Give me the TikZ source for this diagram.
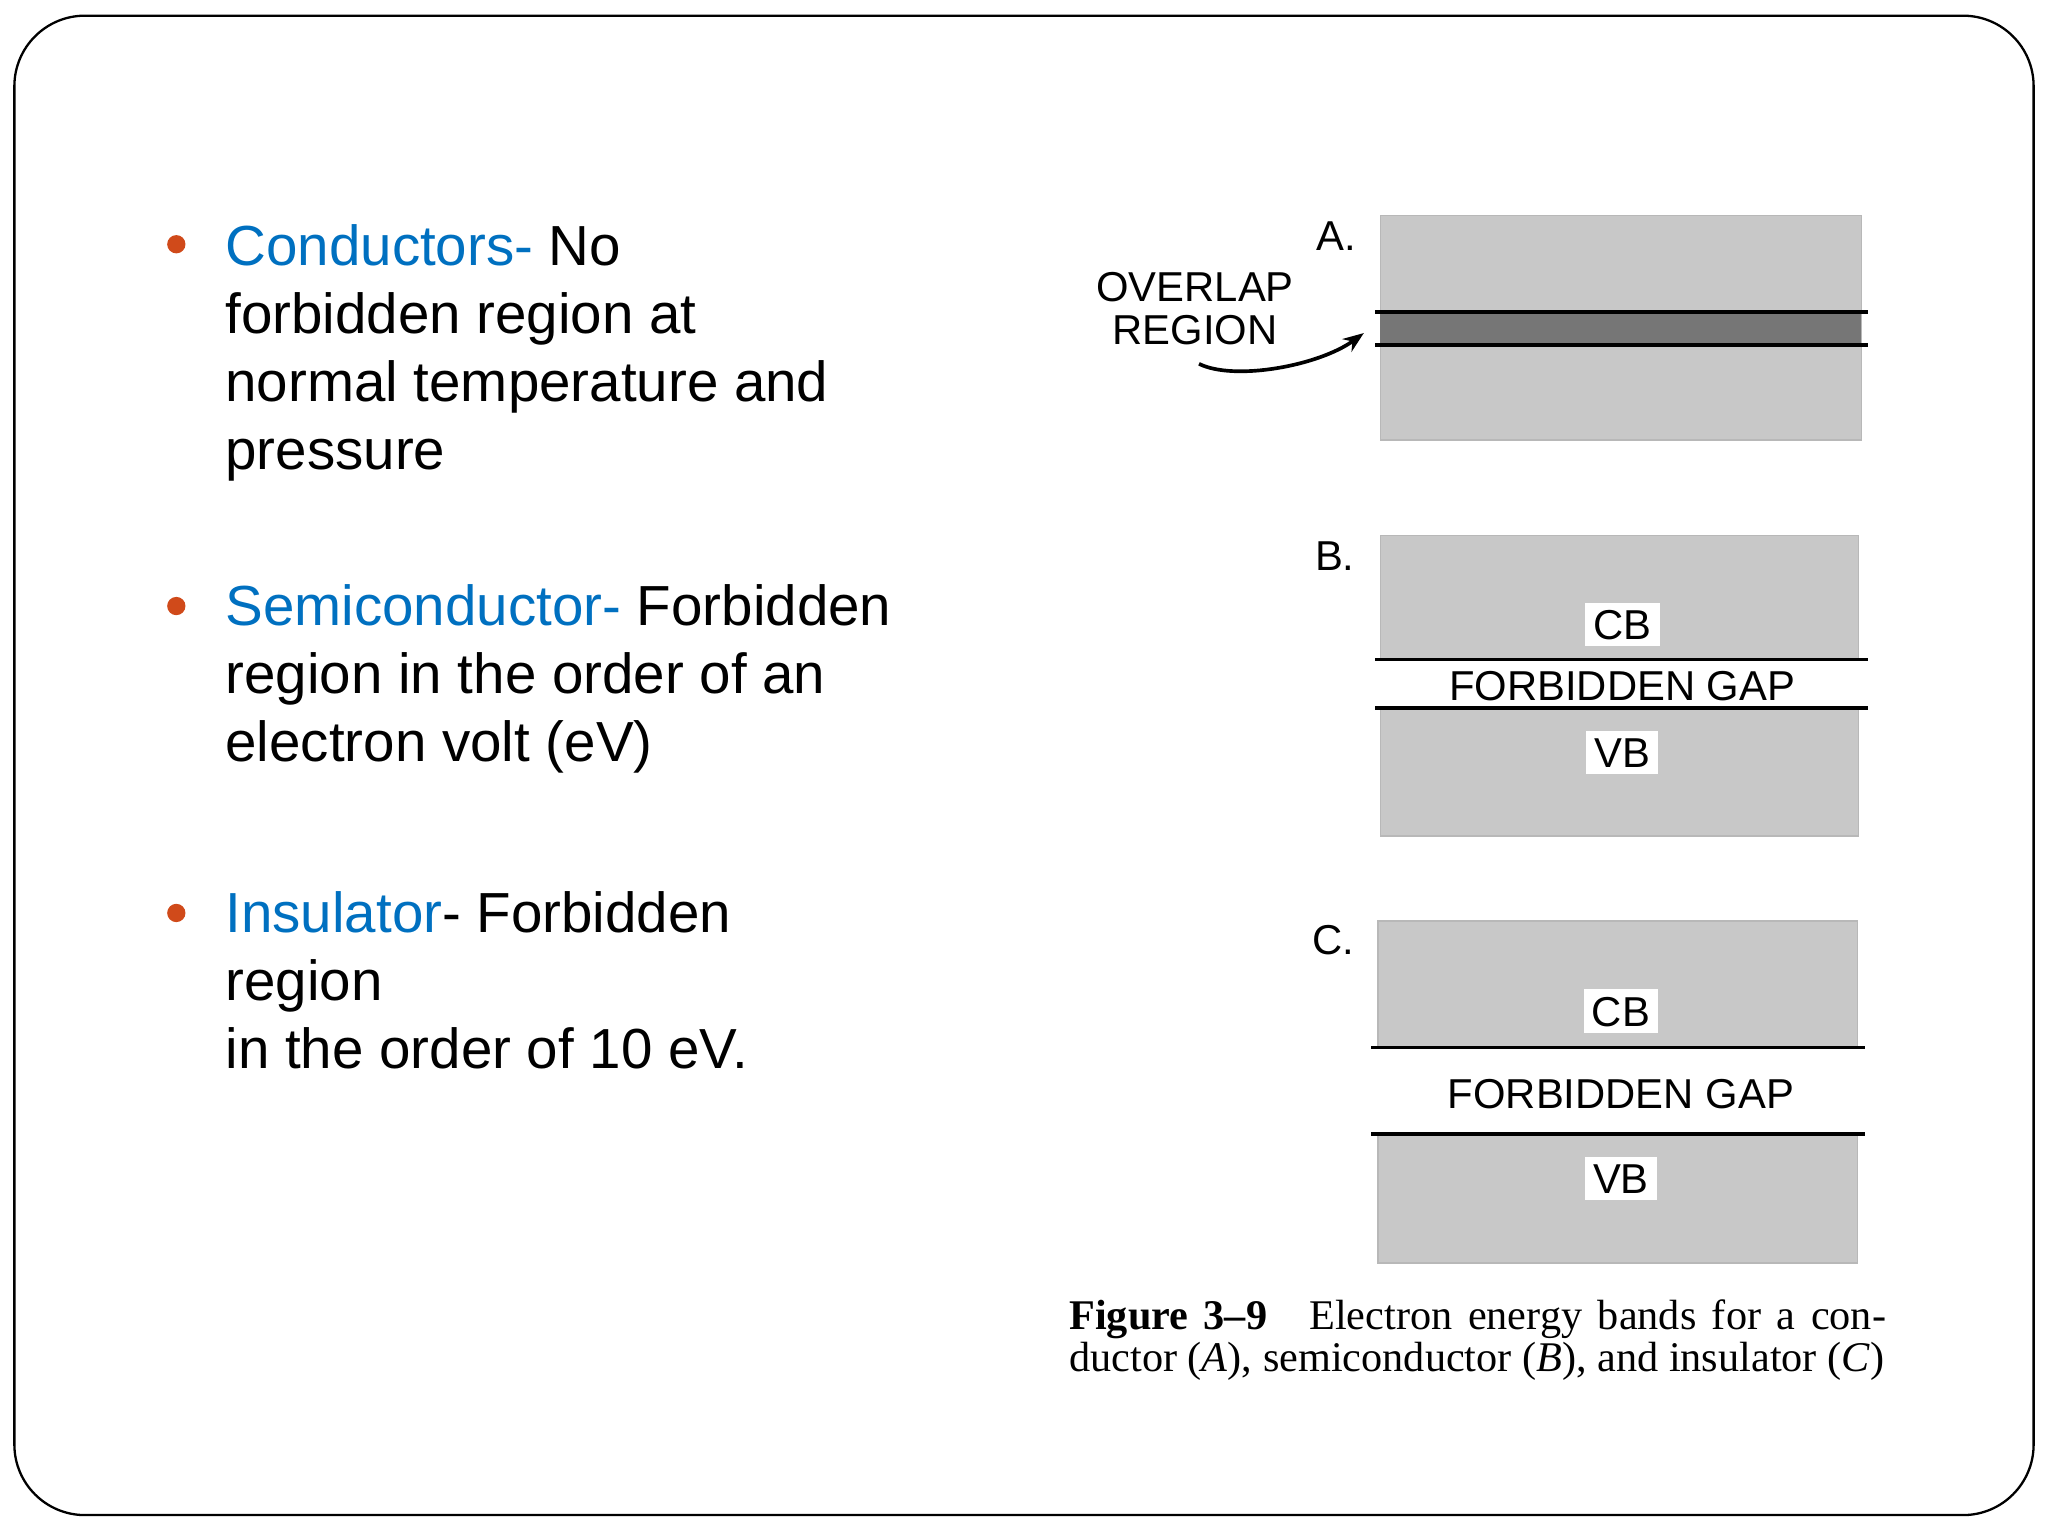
\documentclass[tikz,border=0pt]{standalone}
\usepackage{fontspec}
\setmainfont{Liberation Sans}
\newfontfamily\capfont{Liberation Serif}
\usetikzlibrary{arrows.meta}
\definecolor{titleblue}{RGB}{0,112,192}
\definecolor{dotorange}{RGB}{208,74,26}
\definecolor{bandgray}{RGB}{200,200,200}
\definecolor{overlapgray}{RGB}{118,118,118}
\begin{document}
\begin{tikzpicture}[x=0.01cm,y=-0.01cm,bullet/.style={circle, fill=dotorange, inner sep=0pt, minimum size=0.14cm},itemtext/.style={anchor=north west, inner sep=0pt, align=left, font=\fontsize{12.3}{14.8}\selectfont},bandbox/.style={fill=bandgray, draw=black!28, line width=0.3pt},bandline/.style={line width=0.8pt},bandtext/.style={font=\fontsize{9.1}{9.4}\selectfont, inner sep=0pt},tag/.style={bandtext, fill=white, inner xsep=1.8pt, inner ysep=1.4pt, text height=6.6pt, text depth=0pt},caption/.style={anchor=base west, inner sep=0pt, font=\capfont\fontsize{9.2}{9.1}\selectfont}]
\useasboundingbox (0,0) rectangle (1568,1176);
\draw[line width=0.5pt, rounded corners=0.54cm] (11,12) rectangle (1557,1160);
% bullet list
\node[bullet] (d1) at (135,187) {}; \node[itemtext] (t1) at (172,171) {\textcolor{titleblue}{Conductors-} No\\forbidden region at\\normal temperature and\\pressure};
\node[bullet] (d2) at (135,464) {}; \node[itemtext] (t2) at (172,447) {\textcolor{titleblue}{Semiconductor-} Forbidden\\region in the order of an\\electron volt (eV)};
\node[bullet] (d3) at (135,699) {}; \node[itemtext] (t3) at (172,682) {\textcolor{titleblue}{Insulator}- Forbidden\\region\\in the order of 10 eV.};
% A: conductor
\path[bandbox] (1057,165) rectangle (1425,337);
\node[fill=overlapgray, minimum width=3.68cm, minimum height=0.25cm, inner sep=0pt] (ovband) at (1241,251.5) {};
\draw[bandline] (1053,239) -- (1430,239) (1053,264) -- (1430,264);
\node[bandtext] (la) at (1023,181) {A.};
\node[bandtext, align=center] (overlap) at (915,236) {OVERLAP\\REGION};
\draw[line width=0.8pt, -{Stealth[length=0.16cm, width=0.12cm]}] (overlap.south) ++(3,14) .. controls (945,292) and (1010,280) .. ([xshift=-0.12cm, yshift=-0.035cm]ovband.west);
% B: semiconductor
\path[bandbox] (1057,410) rectangle (1423,505); \path[bandbox] (1057,542) rectangle (1423,640);
\draw[bandline] (1053,505) -- (1430,505) (1053,542) -- (1430,542);
\node[bandtext] (lb) at (1022,426) {B.};
\node[tag] (cbb) at (1242,478) {CB}; \node[bandtext] (gapb) at (1242,525) {FORBIDDEN GAP}; \node[tag] (vbb) at (1242,576) {VB};
% C: insulator
\path[bandbox] (1055,705) rectangle (1422,802); \path[bandbox] (1055,868) rectangle (1422,967);
\draw[bandline] (1050,802) -- (1428,802) (1050,868) -- (1428,868);
\node[bandtext] (lc) at (1021,720) {C.};
\node[tag] (cbc) at (1241,774) {CB}; \node[bandtext] (gapc) at (1241,838) {FORBIDDEN GAP}; \node[tag] (vbc) at (1241,902) {VB};
% caption
\node[caption] (cap1) at (818,1018) {\makebox[6.25cm][s]{\textbf{Figure 3–9}\quad Electron energy bands for a con-}};
\node[caption] (cap2) at (818,1050) {ductor (\textit{A}), semiconductor (\textit{B}), and insulator (\textit{C})};
\end{tikzpicture}
\end{document}
